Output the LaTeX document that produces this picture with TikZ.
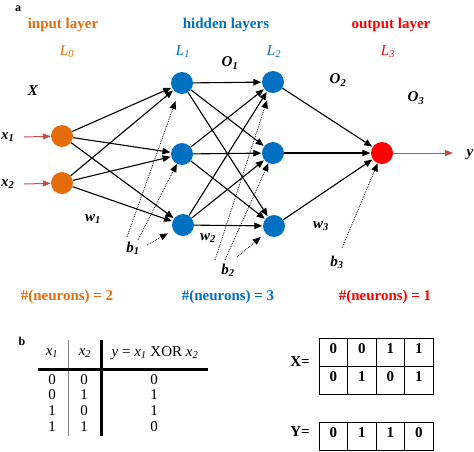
\documentclass[tikz,border=0pt]{standalone}
\usepackage{fontspec}
\setmainfont{Liberation Serif}
\usetikzlibrary{arrows.meta}
\definecolor{orng}{RGB}{228,108,10}
\definecolor{blu}{RGB}{0,112,192}
\definecolor{rd}{RGB}{255,0,0}
\definecolor{inred}{RGB}{192,80,77}
\newcommand{\isub}[2]{\textit{#1}\textsubscript{\textit{#2}}}
\begin{document}
\begin{tikzpicture}[x=1pt,y=-1pt,
  neuron/.style={circle, minimum size=22pt, inner sep=0pt},
  conn/.style={-{Triangle[length=8pt,width=6.5pt]}, line width=1.1pt, shorten >=0.5pt},
  bias/.style={densely dotted, -{Triangle[length=8pt,width=6.5pt]}, line width=0.8pt},
  redarr/.style={-{Triangle[length=8pt,width=6pt]}, line width=1pt, color=inred},
  head/.style={font=\bfseries\fontsize{15}{17}\selectfont},
  lay/.style={font=\itshape\fontsize{15}{17}\selectfont},
  lbl/.style={font=\bfseries\itshape\fontsize{15}{17}\selectfont},
  tab/.style={font=\fontsize{15}{17}\selectfont},
  mat/.style={font=\bfseries\fontsize{15}{17}\selectfont},
  cell/.style={line width=0.8pt}]
\useasboundingbox (0,0) rectangle (474,451);

% titles
\node[font=\bfseries\fontsize{12}{14}\selectfont] (ta) at (18,9) {a};
\node[head, orng] (hin) at (63,25) {input layer};
\node[head, blu] (hhid) at (226,25) {hidden layers};
\node[head, rd] (hout) at (391,25) {output layer};
\node[lay, orng] (l0) at (67,52) {\isub{L}{0}};
\node[lay, blu] (l1) at (183,52) {\isub{L}{1}};
\node[lay, blu] (l2) at (274,52) {\isub{L}{2}};
\node[lay, rd] (l3) at (388,52) {\isub{L}{3}};
\node[lbl] (o1) at (230,63) {\isub{O}{1}};
\node[lbl] (o2) at (338,80) {\isub{O}{2}};
\node[lbl] (o3) at (416,98) {\isub{O}{3}};
\node[lbl] (xx) at (33,91) {X};

% neurons
\node[neuron, fill=orng] (i1) at (62,136) {};
\node[neuron, fill=orng] (i2) at (62,183) {};
\node[neuron, fill=blu] (h1) at (182,83) {};
\node[neuron, fill=blu] (h2) at (182,154) {};
\node[neuron, fill=blu] (h3) at (183,225) {};
\node[neuron, fill=blu] (g1) at (273,82) {};
\node[neuron, fill=blu] (g2) at (273,153) {};
\node[neuron, fill=blu] (g3) at (274,226) {};
\node[neuron, fill=rd] (out) at (382,153) {};

% inputs/outputs
\node[lbl, anchor=east] (x1) at (18,137) {\isub{x}{1}};
\node[lbl, anchor=east] (x2) at (18,184) {\isub{x}{2}};
\coordinate (x1s) at (24,137);
\coordinate (x2s) at (24,184);
\draw[redarr] (x1s) -- (i1);
\draw[redarr] (x2s) -- (i2);
\node[lbl] (yy) at (470,155) {y};
\coordinate (ye) at (453,153);
\draw[redarr] (out) -- (ye);

% connections
\foreach \a in {i1,i2}{\foreach \b in {h1,h2,h3}{\draw[conn] (\a) -- (\b);}}
\foreach \a in {h1,h2,h3}{\foreach \b in {g1,g2,g3}{\draw[conn] (\a) -- (\b);}}
\foreach \a in {g1,g2,g3}{\draw[conn] (\a) -- (out);}

% weights
\node[lbl] (w1) at (93,219) {\isub{w}{1}};
\node[lbl] (w2) at (208,238) {\isub{w}{2}};
\node[lbl] (w3) at (321,226) {\isub{w}{3}};

% biases
\node[lbl] (b1) at (133,248) {\isub{b}{1}};
\node[lbl] (b2) at (228,270) {\isub{b}{2}};
\node[lbl] (b3) at (337,262) {\isub{b}{3}};
\coordinate (b1a) at (127,237);
\coordinate (b1b) at (138,240);
\coordinate (b1c) at (147,245);
\draw[bias, shorten >=8pt] (b1a) -- (h1);
\draw[bias] (b1b) -- (h2);
\draw[bias, shorten >=6pt] (b1c) -- (h3);
\coordinate (b2a) at (215,260);
\coordinate (b2b) at (225,260);
\coordinate (b2c) at (237,257);
\draw[bias, shorten >=8pt] (b2a) -- (g1);
\draw[bias] (b2b) -- (g2);
\draw[bias, shorten >=6pt] (b2c) -- (g3);
\coordinate (b3a) at (342,248);
\draw[bias] (b3a) -- (out);

% neuron counts
\node[head, orng] (n1) at (67,297) {\#(neurons) = 2};
\node[head, blu] (n2) at (228,297) {\#(neurons) = 3};
\node[head, rd] (n3) at (385,297) {\#(neurons) = 1};

% table b
\node[font=\bfseries\fontsize{12}{14}\selectfont] (tb) at (22,341) {b};
\node[tab] (c1) at (52,353) {\isub{x}{1}};
\node[tab] (c2) at (85,353) {\isub{x}{2}};
\node[tab] (c3) at (155,353) {\textit{y} = \isub{x}{1} XOR \isub{x}{2}};
\foreach \r/\yy/\p/\q/\s in {1/380/0/0/0,2/395/0/1/1,3/411/1/0/1,4/427/1/1/0}{
  \node[tab] (r\r a) at (52,\yy) {\p};
  \node[tab] (r\r b) at (84,\yy) {\q};
  \node[tab] (r\r c) at (154,\yy) {\s};
}
\draw[line width=0.6pt, gray] (68,340) -- (68,436);
\fill[black] (38,367.5) rectangle (208,370.5);
\fill[black] (99.5,340) rectangle (102.5,436);

% matrices
\node[mat] (xeq) at (300,362) {X=};
\node[mat] (yeq) at (300,432) {Y=};
\draw[cell] (319,338) rectangle (433,394);
\draw[cell] (319,366) -- (433,366);
\foreach \i in {1,2,3}{\draw[cell] (319+28.5*\i,338) -- (319+28.5*\i,394);}
\foreach \i/\v in {0/0,1/0,2/1,3/1}{\node[mat] (xa\i) at (333.25+28.5*\i,349) {\v};}
\foreach \i/\v in {0/0,1/1,2/0,3/1}{\node[mat] (xb\i) at (333.25+28.5*\i,377) {\v};}
\draw[cell] (319,422) rectangle (433,450);
\foreach \i in {1,2,3}{\draw[cell] (319+28.5*\i,422) -- (319+28.5*\i,450);}
\foreach \i/\v in {0/0,1/1,2/1,3/0}{\node[mat] (ya\i) at (333.25+28.5*\i,433) {\v};}
\end{tikzpicture}
\end{document}
